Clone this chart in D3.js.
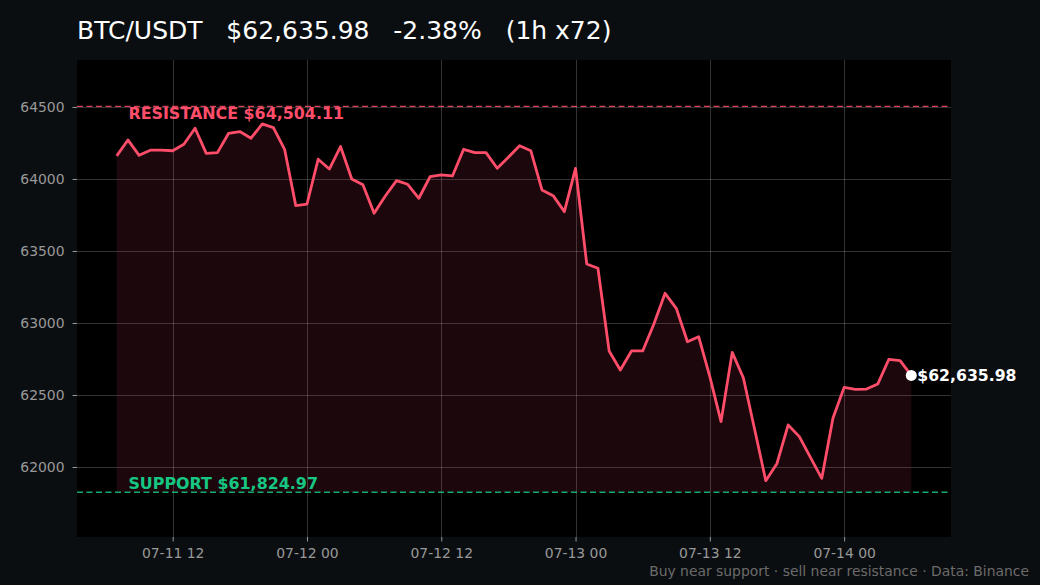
<!DOCTYPE html>
<html>
<head>
<meta charset="utf-8">
<script src="https://cdn.jsdelivr.net/npm/d3@7"></script>
<style>
  html, body { margin: 0; padding: 0; background: #0b0e11; }
  svg { display: block; font-family: "DejaVu Sans", sans-serif; }
</style>
</head>
<body>
<div id="chart"></div>
<script>
// 72 hourly closes, BTC/USDT, starting 07-11 07:00
const startTime = "2024-07-11T07:00:00";
const closes = [
  64160, 64271, 64164, 64200, 64200, 64196, 64241, 64352, 64178, 64183,
  64317, 64329, 64283, 64382, 64356, 64206, 63815, 63826, 64137, 64069,
  64225, 64000, 63960, 63762, 63882, 63988, 63963, 63866, 64016, 64028,
  64021, 64206, 64183, 64183, 64074, 64151, 64231, 64196, 63924, 63884,
  63773, 64074, 63410, 63380, 62806, 62674, 62806, 62806, 62993, 63206,
  63102, 62870, 62905, 62627, 62315, 62796, 62618, 62262, 61905, 62025,
  62292, 62211, 62065, 61921, 62338, 62553, 62539, 62541, 62576, 62748,
  62738, 62635.98
];
const support = 61824.97;
const resistance = 64504.11;
const yTicks = [62000, 62500, 63000, 63500, 64000, 64500];
const xTickLabels = ["07-11 12", "07-12 00", "07-12 12", "07-13 00", "07-13 12", "07-14 00"];
const title = "BTC/USDT   $62,635.98   -2.38%   (1h x72)";
const footer = "Buy near support \u00b7 sell near resistance \u00b7 Data: Binance";

const width = 1040, height = 585;
const margin = { top: 60, right: 89, bottom: 48, left: 77 };
const lineColor = "#ff4d6a";
const supportColor = "#16c784";

const parseLabel = d3.timeParse("%Y-%m-%d %H");
const t0 = d3.isoParse(startTime);
const points = closes.map((c, i) => ({ t: d3.timeHour.offset(t0, i), v: c }));
const xTickDates = xTickLabels.map(s => parseLabel("2024-" + s));

const svg = d3.select("#chart").append("svg")
  .attr("width", width).attr("height", height);

svg.append("rect").attr("width", width).attr("height", height).attr("fill", "#0b0e11");

const plotW = width - margin.left - margin.right;
const plotH = height - margin.top - margin.bottom;

const tFirst = points[0].t, tLast = points[points.length - 1].t;
const pad = (tLast - tFirst) * 0.05;
const x = d3.scaleTime()
  .domain([new Date(+tFirst - pad), new Date(+tLast + pad)])
  .range([margin.left, margin.left + plotW]);
const y = d3.scaleLinear()
  .domain([61514, 64826])
  .range([margin.top + plotH, margin.top]);

svg.append("rect")
  .attr("x", margin.left).attr("y", margin.top)
  .attr("width", plotW).attr("height", plotH)
  .attr("fill", "#000");

// grid
const grid = svg.append("g").attr("stroke", "#fff").attr("stroke-opacity", 0.2).attr("stroke-width", 1);
grid.selectAll("line.h").data(yTicks).join("line")
  .attr("x1", margin.left).attr("x2", margin.left + plotW)
  .attr("y1", d => Math.round(y(d)) + 0.5).attr("y2", d => Math.round(y(d)) + 0.5);
grid.selectAll("line.v").data(xTickDates).join("line")
  .attr("y1", margin.top).attr("y2", margin.top + plotH)
  .attr("x1", d => Math.round(x(d)) + 0.5).attr("x2", d => Math.round(x(d)) + 0.5);

// area down to support
const area = d3.area().x(d => x(d.t)).y0(y(support)).y1(d => y(d.v));
svg.append("path").datum(points)
  .attr("d", area)
  .attr("fill", lineColor).attr("fill-opacity", 0.11);

// support / resistance
svg.append("line")
  .attr("x1", margin.left).attr("x2", margin.left + plotW)
  .attr("y1", y(resistance)).attr("y2", y(resistance))
  .attr("stroke", lineColor).attr("stroke-opacity", 0.85)
  .attr("stroke-width", 1.4).attr("stroke-dasharray", "6,3.5");
svg.append("line")
  .attr("x1", margin.left).attr("x2", margin.left + plotW)
  .attr("y1", y(support)).attr("y2", y(support))
  .attr("stroke", supportColor).attr("stroke-opacity", 0.85)
  .attr("stroke-width", 1.4).attr("stroke-dasharray", "6,3.5");

svg.append("text")
  .attr("x", x(points[1].t) + 0.5).attr("y", y(resistance) + 13)
  .attr("fill", lineColor).attr("font-size", 15.9).attr("font-weight", "bold")
  .text("RESISTANCE $" + d3.format(",.2f")(resistance));
svg.append("text")
  .attr("x", x(points[1].t) + 0.5).attr("y", y(support) - 3.7)
  .attr("fill", supportColor).attr("font-size", 15.9).attr("font-weight", "bold")
  .text("SUPPORT $" + d3.format(",.2f")(support));

// price line
const line = d3.line().x(d => x(d.t)).y(d => y(d.v));
svg.append("path").datum(points)
  .attr("d", line)
  .attr("fill", "none").attr("stroke", lineColor)
  .attr("stroke-width", 2.8).attr("stroke-linejoin", "round");

const last = points[points.length - 1];
svg.append("circle")
  .attr("cx", x(last.t)).attr("cy", y(last.v)).attr("r", 5.5).attr("fill", "#fff");
svg.append("text")
  .attr("x", x(last.t) + 6).attr("y", y(last.v)).attr("dy", "0.36em")
  .attr("fill", "#fff").attr("font-size", 15.7).attr("font-weight", "bold")
  .text("$" + d3.format(",.2f")(last.v));

// axes
const yAxis = svg.append("g")
  .attr("transform", `translate(${margin.left},0)`)
  .call(d3.axisLeft(y).tickValues(yTicks).tickSize(4.5).tickPadding(8).tickFormat(d3.format("d")));
const xAxis = svg.append("g")
  .attr("transform", `translate(0,${margin.top + plotH})`)
  .call(d3.axisBottom(x).tickValues(xTickDates).tickSize(4.5).tickPadding(7).tickFormat(d3.timeFormat("%m-%d %H")));
[xAxis, yAxis].forEach(g => {
  g.select(".domain").remove();
  g.selectAll(".tick line").attr("stroke", "#999");
  g.selectAll(".tick text").attr("fill", "#999").attr("font-size", 13.9)
    .attr("font-family", "DejaVu Sans, sans-serif");
});

// title and footer
svg.append("text")
  .attr("x", margin.left).attr("y", 39)
  .attr("fill", "#fff").attr("font-size", 25)
  .style("white-space", "pre")
  .text(title);
svg.append("text")
  .attr("x", width - 11).attr("y", 576)
  .attr("text-anchor", "end")
  .attr("fill", "#6b6b6b").attr("font-size", 13.9)
  .text(footer);
</script>
</body>
</html>
